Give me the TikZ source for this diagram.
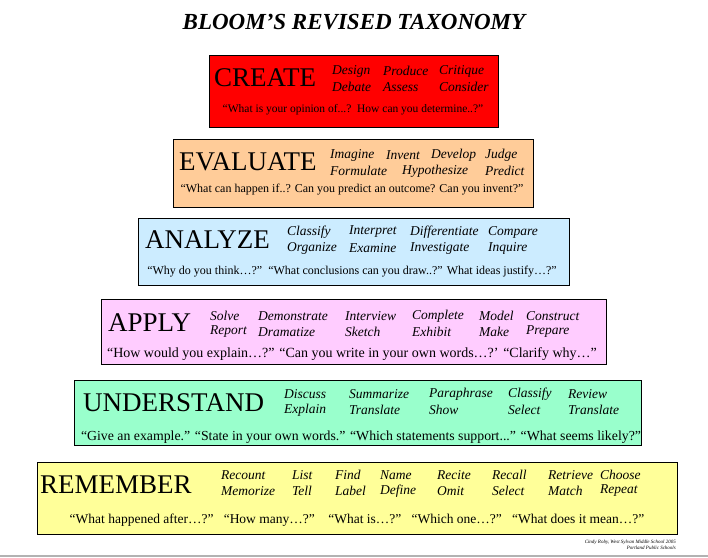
\documentclass[tikz,border=0pt]{standalone}
\usepackage{fontspec}
\setmainfont{Liberation Serif}
\begin{document}
\begin{tikzpicture}[x=1pt,y=-1pt,
  lvl/.style={draw=black,line width=0.9pt},
  big/.style={anchor=west,font=\fontsize{27}{27}\selectfont,inner sep=0pt},
  verb/.style={anchor=west,font=\fontsize{13.5}{13.5}\selectfont\itshape,inner sep=0pt},
  quote/.style={inner sep=0pt}]
\useasboundingbox (0,0) rectangle (708,557);
\fill[white] (0,0) rectangle (708,557);
\definecolor{cre}{HTML}{FF0000}\definecolor{eva}{HTML}{FFCC99}
\definecolor{ana}{HTML}{CCECFF}\definecolor{app}{HTML}{FFCCFF}
\definecolor{und}{HTML}{99FFCC}\definecolor{rem}{HTML}{FFFF99}
\node[font=\fontsize{23}{23}\selectfont\bfseries\itshape] (title) at (354,22) {BLOOM’S REVISED TAXONOMY};
\draw[lvl,fill=cre] (209,55) rectangle (498,127);
\draw[lvl,fill=eva] (173,139) rectangle (533,207);
\draw[lvl,fill=ana] (138,218) rectangle (569,285);
\draw[lvl,fill=app] (101,299) rectangle (606,364);
\draw[lvl,fill=und] (74,380) rectangle (641,445);
\draw[lvl,fill=rem] (37,462) rectangle (677,534);
\node[big] (c) at (214,78) {CREATE};
\node[big] (e) at (179,162) {EVALUATE};
\node[big] (a) at (145,240) {ANALYZE};
\node[big] (p) at (108,323) {APPLY};
\node[big] (u) at (83,403) {UNDERSTAND};
\node[big] (r) at (40,485) {REMEMBER};
\foreach \x/\t/\b [count=\i] in {332/Design/Debate,383/Produce/Assess,439/Critique/Consider}{
  \node[verb] (c1\i) at (\x,71) {\t}; \node[verb] (c2\i) at (\x,87) {\b};}
\node[verb] (c2x) at (436,87) {};
\foreach \x/\t/\b [count=\i] in {330/Imagine/Formulate,386/Invent/{},431/Develop/{},485/Judge/Predict}{
  \node[verb] (e1\i) at (\x,155) {\t}; \node[verb] (e2\i) at (\x,171) {\b};}
\node[verb] (e2h) at (402,171) {Hypothesize};
\foreach \x/\t/\b [count=\i] in {287/Classify/Organize,349/Interpret/Examine,410/Differentiate/Investigate,488/Compare/Inquire}{
  \node[verb] (a1\i) at (\x,232) {\t}; \node[verb] (a2\i) at (\x,248) {\b};}
\foreach \x/\t/\b [count=\i] in {210/Solve/Report,258/Demonstrate/Dramatize,345/Interview/Sketch,412/Complete/Exhibit,479/Model/Make,526/Construct/Prepare}{
  \node[verb] (p1\i) at (\x,316) {\t}; \node[verb] (p2\i) at (\x,332) {\b};}
\foreach \x/\t/\b [count=\i] in {284/Discuss/Explain,349/Summarize/Translate,429/Paraphrase/Show,508/Classify/Select,568/Review/Translate}{
  \node[verb] (u1\i) at (\x,394) {\t}; \node[verb] (u2\i) at (\x,410) {\b};}
\foreach \x/\t/\b [count=\i] in {221/Recount/Memorize,292/List/Tell,335/Find/Label,380/Name/Define,437/Recite/Omit,492/Recall/Select,548/Retrieve/Match,600/Choose/Repeat}{
  \node[verb] (r1\i) at (\x,475) {\t}; \node[verb] (r2\i) at (\x,491) {\b};}
\node[quote,font=\fontsize{11.5}{11.5}\selectfont] (cq) at (353,110) {“What is your opinion of...?~~How can you determine..?”};
\node[quote,font=\fontsize{12}{12}\selectfont] (eq) at (352,190) {“What can happen if..? Can you predict an outcome? Can you invent?”};
\node[quote,font=\fontsize{12}{12}\selectfont] (aq) at (352,272) {“Why do you think…?”~~“What conclusions can you draw..?” What ideas justify…?”};
\node[quote,font=\fontsize{14}{14}\selectfont] (pq) at (352,354) {“How would you explain…?” “Can you write in your own words…?’ “Clarify why…”};
\node[quote,font=\fontsize{13.8}{13.8}\selectfont] (uq) at (361,437) {“Give an example.” “State in your own words.” “Which statements support...” “What seems likely?”};
\node[quote,font=\fontsize{13.5}{13.5}\selectfont] (rq) at (357,520) {“What happened after…?”~~~“How many…?”~~~~“What is…?”~~~“Which one…?”~~~“What does it mean…?”};
\node[font=\fontsize{5}{5.5}\selectfont\itshape,align=right,anchor=north east,inner sep=0pt] (cr) at (676,540) {Cindy Roby, West Sylvan Middle School 2005\\Portland Public Schools};
\draw[gray!60,line width=1.5pt] (0,556) -- (708,556);
\end{tikzpicture}
\end{document}
